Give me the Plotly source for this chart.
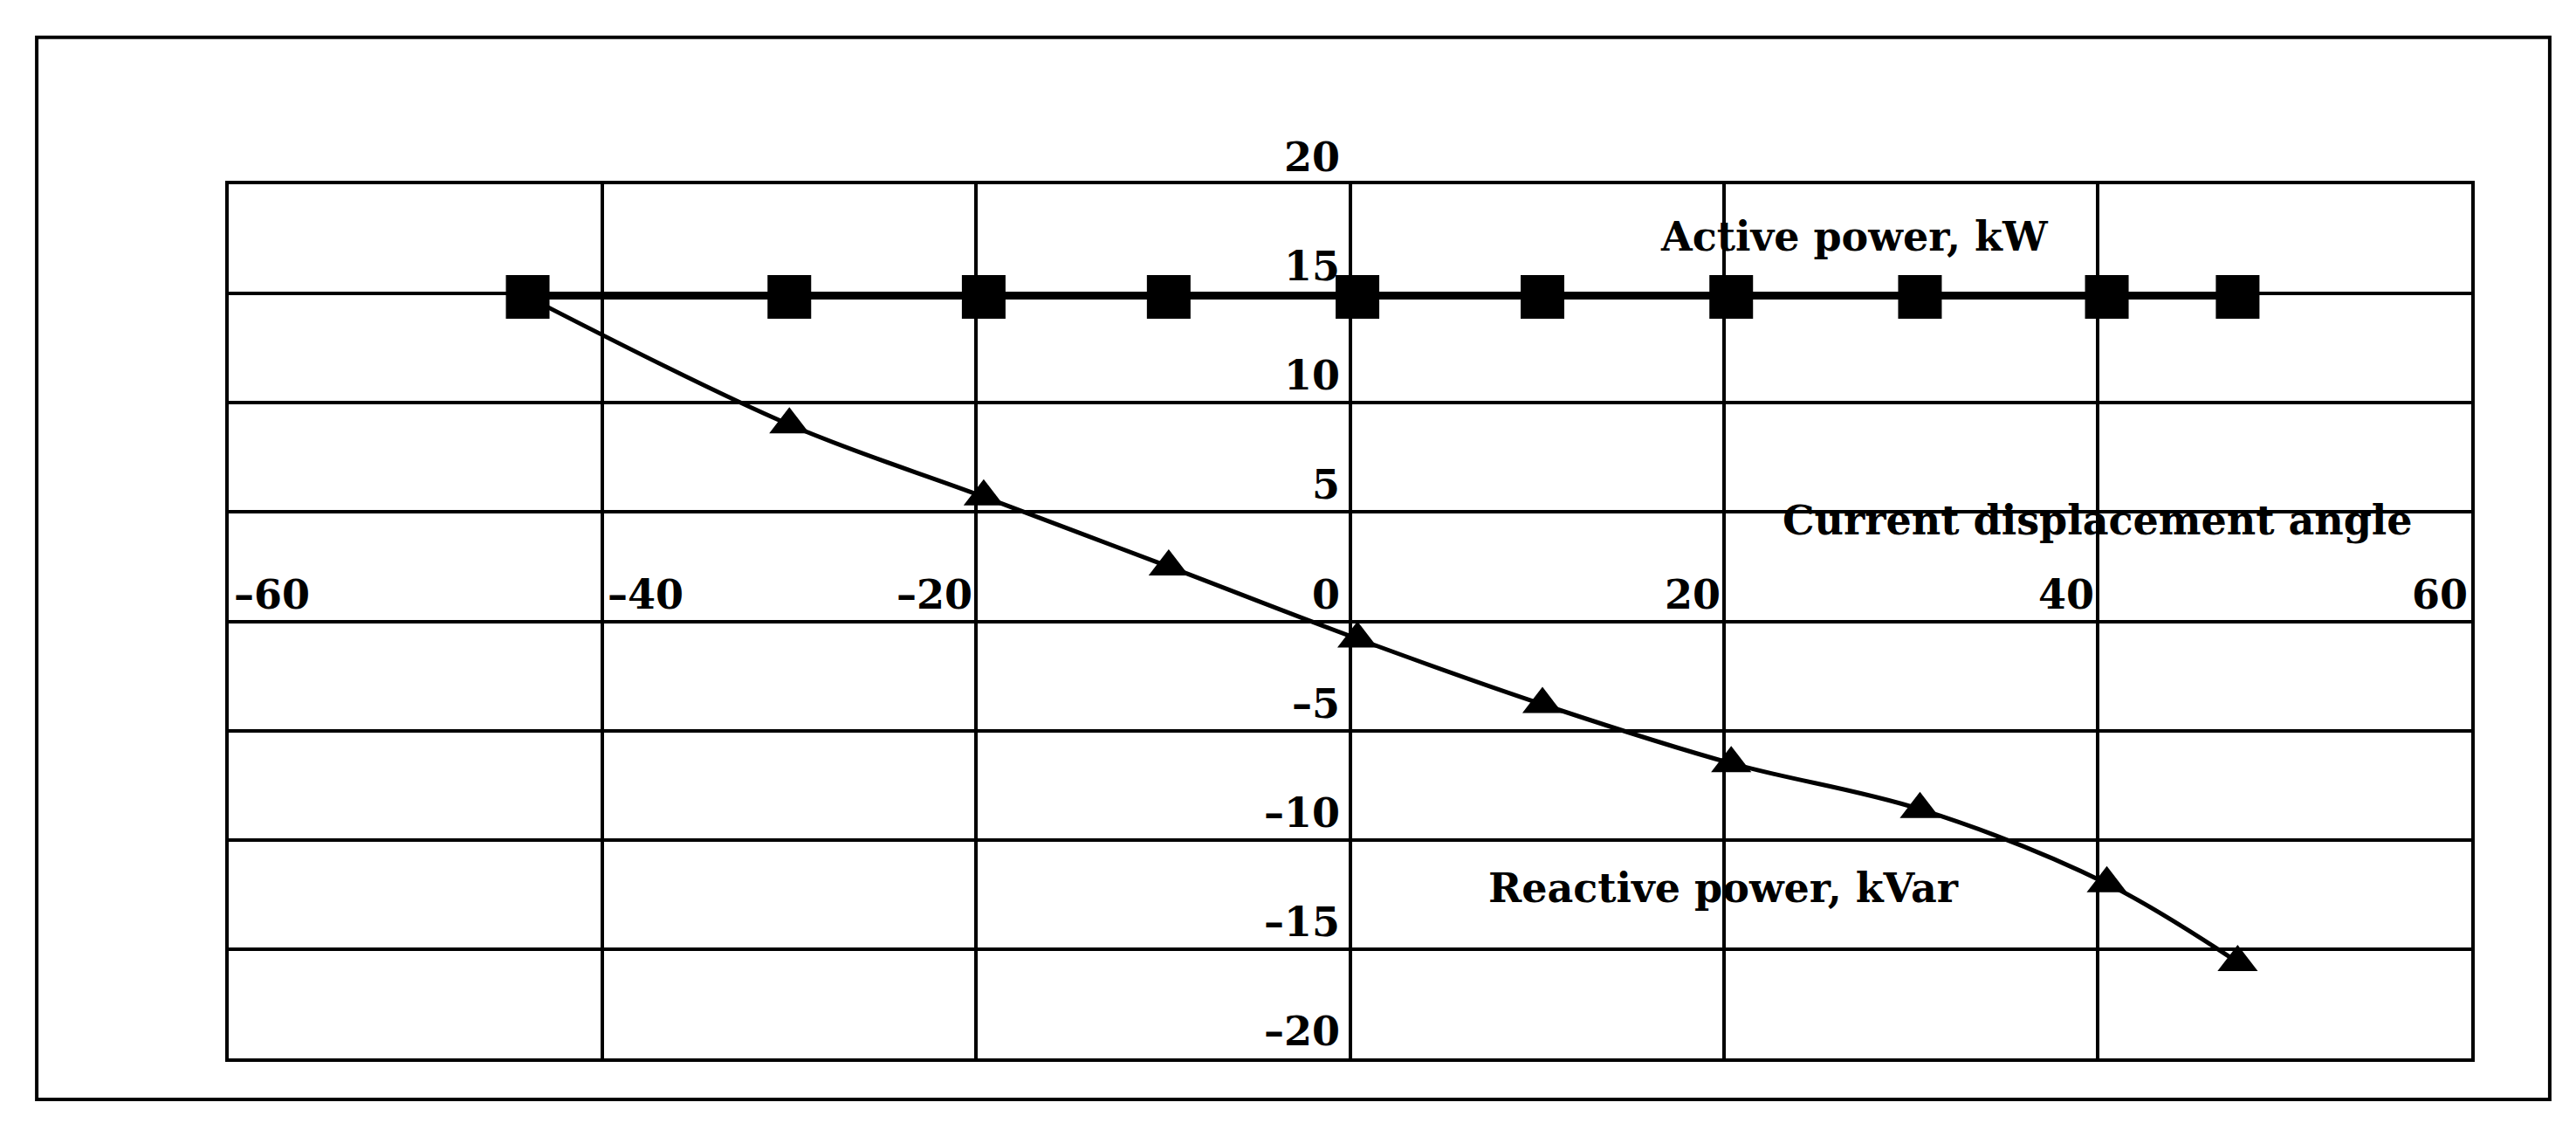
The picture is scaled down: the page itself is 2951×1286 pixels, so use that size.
import plotly.graph_objects as go

angle_active = [-44, -30, -19.6, -9.7, 0.4, 10.3, 20.4, 30.5, 40.5, 47.5]
active_kw = [14.85, 14.85, 14.85, 14.85, 14.85, 14.85, 14.85, 14.85, 14.85, 14.85]
angle_reactive = [-44, -30, -19.6, -9.7, 0.4, 10.3, 20.4, 30.5, 40.5, 47.5]
reactive_kvar = [14.85, 9.0, 5.7, 2.5, -0.8, -3.8, -6.5, -8.6, -12.0, -15.6]
x_ticks = [-60, -40, -20, 0, 20, 40, 60]
y_ticks = [-20, -15, -10, -5, 0, 5, 10, 15, 20]

font = dict(family="DejaVu Serif", size=46, color="black")
fig = go.Figure()
fig.add_trace(go.Scatter(x=angle_reactive, y=reactive_kvar, mode="lines+markers",
    line=dict(color="black", width=5, shape="spline"),
    marker=dict(symbol="triangle-up", size=40, color="black")))
fig.add_trace(go.Scatter(x=angle_active, y=active_kw, mode="lines+markers",
    line=dict(color="black", width=6),
    marker=dict(symbol="square", size=50, color="black")))

ann = []
for t in x_ticks:
    if t == 0:
        continue
    if t < -30:
        xa, dx = "left", 4
    else:
        xa, dx = "right", -2
    ann.append(dict(x=t, y=0, xref="x", yref="y", text=f"<b>{t}</b>".replace("-", "\u2013"),
                    showarrow=False, xanchor=xa, yanchor="bottom", xshift=dx, yshift=2, font=font))
for t in y_ticks:
    ann.append(dict(x=0, y=t, xref="x", yref="y", text=f"<b>{t}</b>".replace("-", "\u2013"),
                    showarrow=False, xanchor="right", yanchor="bottom", xshift=-10, yshift=2, font=font))
ann.append(dict(x=27, y=17.6, xref="x", yref="y", text="<b>Active power, kW</b>", showarrow=False, font=font))
ann.append(dict(x=40, y=4.6, xref="x", yref="y", text="<b>Current displacement angle</b>", showarrow=False, font=font))
ann.append(dict(x=20, y=-12.2, xref="x", yref="y", text="<b>Reactive power, kVar</b>", showarrow=False, font=font))

axis = dict(showgrid=True, gridcolor="black", gridwidth=4, zeroline=True, zerolinecolor="black",
            zerolinewidth=4, showline=True, linecolor="black", linewidth=4, mirror=True,
            showticklabels=False, ticks="")
fig.update_layout(width=2951, height=1286, plot_bgcolor="white", paper_bgcolor="white",
    showlegend=False, margin=dict(l=254, r=128, t=203, b=82),
    xaxis=dict(range=[-60, 60], tickvals=x_ticks, **axis),
    yaxis=dict(range=[-20, 20], tickvals=y_ticks, **axis),
    annotations=ann,
    shapes=[dict(type="rect", xref="paper", yref="paper", x0=-0.0856, x1=1.035, y0=-0.047, y1=1.168,
                 line=dict(color="black", width=4))])
fig.write_html("out.html")
